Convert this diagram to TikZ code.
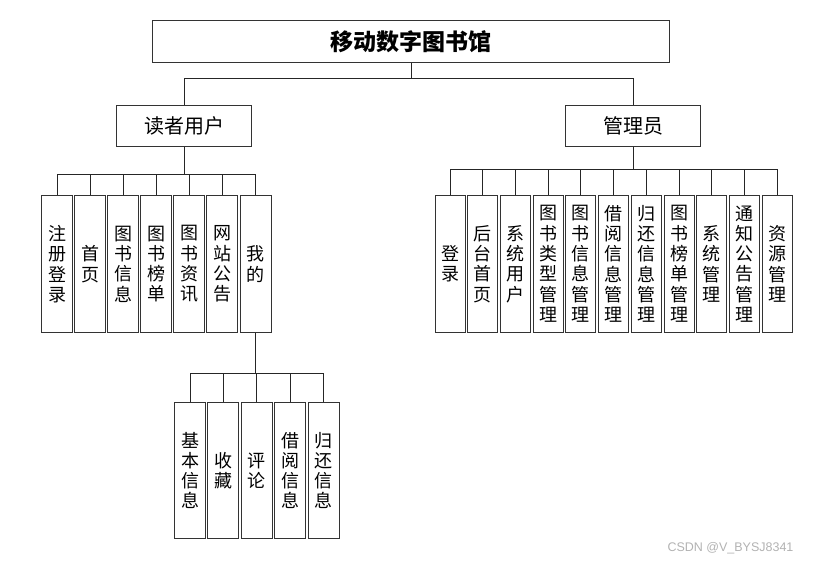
\documentclass[tikz,border=0pt]{standalone}
\usepackage{fontspec}
\newfontfamily\cjk{Noto Sans CJK SC}
\newfontfamily\wm{Liberation Sans}
\usetikzlibrary{positioning}

\begin{document}
\begin{tikzpicture}[x=1pt, y=-1pt,
  mainbox/.style={draw=black!80, line width=1pt, minimum width=517pt, minimum height=42pt, inner sep=0pt, font=\cjk\bfseries\fontsize{23}{23}\selectfont},
  rolebox/.style={draw=black!80, line width=1pt, minimum width=135pt, minimum height=41pt, inner sep=0pt, font=\cjk\fontsize{20}{20}\selectfont},
  funcbox/.style={draw=black!80, line width=1pt, minimum width=30pt, minimum height=137pt, inner sep=0pt, anchor=north, align=center, font=\cjk\fontsize{18}{20.3}\selectfont},
  link/.style={draw=black!85, line width=0.9pt}]
  \useasboundingbox (0,0) rectangle (816,564);

  % top levels
  \node[mainbox] (lib) at (411.4,41.8) {移动数字图书馆};
  \node[rolebox] (reader) at (184.3,126.3) {读者用户};
  \node[rolebox] (admin) at (633.3,126.3) {管理员};

  \draw[link] (lib.south) -- ++(0,15.6) -| (reader.north);
  \draw[link] (lib.south) -- ++(0,15.6) -| (admin.north);

  % reader functions
  \foreach \t [count=\i] in {{注\\册\\登\\录},{首\\页},{图\\书\\信\\息},{图\\书\\榜\\单},{图\\书\\资\\讯},{网\\站\\公\\告},{我\\的}}
    \node[funcbox, minimum width=31pt] (r\i) at ({57.2+33.05*(\i-1)},195) {\t};
  \foreach \i in {1,...,7}
    \draw[link] (reader.south) -- ++(0,27) -| (r\i.north);

  % admin functions
  \foreach \t [count=\i] in {{登\\录},{后\\台\\首\\页},{系\\统\\用\\户},{图\\书\\类\\型\\管\\理},{图\\书\\信\\息\\管\\理},{借\\阅\\信\\息\\管\\理},{归\\还\\信\\息\\管\\理},{图\\书\\榜\\单\\管\\理},{系\\统\\管\\理},{通\\知\\公\\告\\管\\理},{资\\源\\管\\理}}
    \node[funcbox] (a\i) at ({450+32.73*(\i-1)},195) {\t};
  \foreach \i in {1,...,11}
    \draw[link] (admin.south) -- ++(0,22.3) -| (a\i.north);

  % 我的
  \foreach \t [count=\i] in {{基\\本\\信\\息},{收\\藏},{评\\论},{借\\阅\\信\\息},{归\\还\\信\\息}}
    \node[funcbox, minimum width=31pt, minimum height=136.6pt] (m\i) at ({190+33.4*(\i-1)},401.7) {\t};
  \foreach \i in {1,...,5}
    \draw[link] (r7.south) -- ++(0,40.6) -| (m\i.north);

  \node[text=black!30, font=\wm\fontsize{12.5}{14}\selectfont, anchor=east] (mark) at (797,548) {CSDN @V\_BYSJ8341};
\end{tikzpicture}
\end{document}
